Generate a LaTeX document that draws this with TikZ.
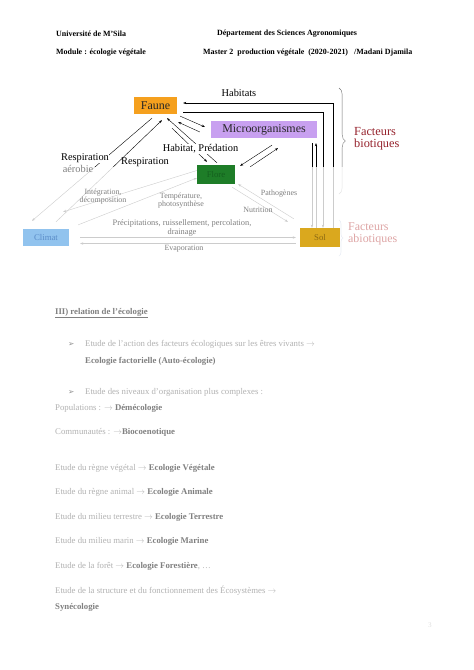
\documentclass[tikz,border=0pt]{standalone}
\usepackage{fontspec}
\setmainfont{Liberation Serif}
\newfontfamily\djv{DejaVu Sans}
\usetikzlibrary{calc,arrows.meta,decorations.pathreplacing}
\pgfdeclarelayer{bg}
\pgfsetlayers{bg,main}
\definecolor{fauneC}{RGB}{245,160,30}
\definecolor{microC}{RGB}{200,160,240}
\definecolor{floreC}{RGB}{30,125,40}
\definecolor{floreT}{RGB}{20,95,30}
\definecolor{climatC}{RGB}{145,195,238}
\definecolor{climatT}{RGB}{90,140,200}
\definecolor{solC}{RGB}{218,168,30}
\definecolor{solT}{RGB}{140,105,20}
\definecolor{bioC}{RGB}{150,35,45}
\definecolor{abioC}{RGB}{222,165,165}
\definecolor{abioB}{RGB}{150,170,210}
\definecolor{lightT}{gray}{0.70}
\definecolor{midT}{gray}{0.50}
\begin{document}
\begin{tikzpicture}[x=1.2553pt,y=-1.2553pt,
  arr/.style={-{Stealth[length=4pt,width=3pt]}, line width=0.5pt},
  box/.style={inner sep=0pt, font=\fontsize{15}{15}\selectfont},
  lab/.style={inner sep=0.5pt, font=\fontsize{13}{13}\selectfont},
  blab/.style={inner sep=0pt, text=midT, align=center, font=\fontsize{10}{10}\selectfont},
  hdr/.style={anchor=west, inner sep=0pt, font=\fontsize{10}{12}\selectfont\bfseries},
  body/.style={anchor=west, inner sep=0pt, text=lightT, font=\fontsize{11}{13}\selectfont},
  bodyb/.style={body, text=midT, font=\fontsize{11}{13}\selectfont\bfseries},
  bul/.style={anchor=west, inner sep=0pt, text=black!45, font=\djv\fontsize{9.5}{9.5}\selectfont},
]
\useasboundingbox (0,0) rectangle (474,670);

% header
\node[hdr] (h1) at (56,34) {Université de M’Sila};
\node[hdr] (h2) at (217,34) {Département des Sciences Agronomiques};
\node[hdr] (h3) at (56,53) {Module : écologie végétale};
\node[hdr] (h4) at (203,53) {Master 2\ \ production végétale\ \ (2020-2021)\ \ \ /Madani Djamila};

% boxes
\node[box, fill=fauneC, text=black!85, minimum width=54pt, minimum height=21.3pt] (faune) at (155.5,105.5) {Faune};
\node[box, fill=microC, text=black!85, minimum width=133pt, minimum height=21.3pt] (micro) at (264,129.5) {Microorganismes};
\node[box, fill=floreC, text=floreT, font=\fontsize{11}{11}\selectfont, minimum width=47.7pt, minimum height=23.9pt] (flore) at (216,174.5) {Flore};
\node[box, fill=climatC, text=climatT, font=\fontsize{11}{11}\selectfont, minimum width=57.7pt, minimum height=21.3pt] (climat) at (46,237.5) {Climat};
\node[box, fill=solC, text=solT, font=\fontsize{11}{11}\selectfont, minimum width=50.2pt, minimum height=23.9pt] (sol) at (320,237.5) {Sol};

% sharp labels
\node[lab] (hab) at (239,93) {Habitats};
\node[lab, fill=white] (hp) at (200.5,149) {Habitat, Prédation};
\node[lab, fill=white] (resp1) at (85,158.5) {Respiration};
\node[lab, text=midT] (aer) at (78,169) {aérobie};
\node[lab] (resp2) at (145,162) {Respiration};
\node[anchor=west, inner sep=0pt, text=bioC, align=left, font=\fontsize{15.5}{15}\selectfont] (bio) at (354,138.5) {Facteurs\\biotiques};
\node[anchor=west, inner sep=0pt, text=abioC, align=left, font=\fontsize{15}{14.5}\selectfont] (abio) at (348,234) {Facteurs\\abiotiques};

% blurred labels
\node[blab] (integ) at (103,196.5) {Intégration,\\décomposition};
\node[blab] (temp) at (181,201) {Température,\\photosynthèse};
\node[blab, font=\fontsize{10.5}{11.3}\selectfont] (precip) at (182,227.5) {Précipitations, ruissellement, percolation,\\drainage};
\node[blab] (evap) at (184,248.5) {Evaporation};
\node[blab] (patho) at (279,194) {Pathogènes};
\node[blab] (nutri) at (258,209.5) {Nutrition};

\begin{pgfonlayer}{bg}
\fill[white] (0,0) rectangle (474,670);
% Habitats
\draw[arr] ($(sol.north)+(13,0)$) |- ($(faune.east)+(6,-2.5)$);
\draw[arr] ($(faune.east)+(6,6.5)$) -| ($(sol.north)+(3,0)$);
% Micro - Sol
\draw[arr] ($(sol.north)+(-4,0)$) -- ($(micro.south)+(52,5)$);
\draw[arr] ($(micro.south)+(48,5)$) -- ($(sol.north)+(-8,0)$);
% Faune - Micro
\draw[arr] ($(faune.south east)+(3,2)$) -- ($(micro.west)+(-6,-2.5)$);
\draw[arr] ($(micro.west)+(-11,2.5)$) -- ($(faune.south east)+(1,8)$);
% Faune - Flore
\draw[arr] ($(flore.north)+(1,-2)$) -- ($(faune.south)+(11.5,4)$);
\draw[arr] ($(faune.south)+(16.5,14)$) -- ($(flore.north)+(-9,-3)$);
% Respiration
\draw[arr] ($(faune.south)+(-3.5,4)$) -- ($(climat.north)+(-14,-8)$);
\draw[arr] ($(climat.north)+(10,-7)$) -- ($(faune.south)+(6.5,6)$);
% Climat - Flore
\draw[arr] ($(flore.west)+(0,-4)$) -- ($(climat.north east)+(-6,-17)$);
\draw[arr] ($(climat.north east)+(9,-4)$) -- ($(flore.west)+(0,3.5)$);
% Precipitations / Evaporation
\draw[arr] ($(climat.east)+(11,0)$) -- ($(sol.west)+(-4,0)$);
\draw[arr] ($(sol.west)+(-4,6)$) -- ($(climat.east)+(11,6)$);
% Flore - Sol
\draw[arr] ($(flore.south east)+(-3,3)$) -- ($(sol.north west)+(-12,-6)$);
\draw[arr] ($(sol.north west)+(-6,-9)$) -- ($(flore.south east)+(3,0)$);
% Micro - Flore
\draw[arr] ($(micro.south)+(8,7)$) -- ($(flore.north east)+(5,1)$);
\draw[arr] ($(flore.north east)+(15,2)$) -- ($(micro.south)+(14,10)$);
% braces
\draw[black!55, line width=0.5pt, decorate, decoration={brace, amplitude=8pt}] (339,88) -- (339,194);
\draw[abioB, line width=0.8pt, decorate, decoration={brace, amplitude=5pt}] (339,220) -- (339,256);
% blur veil over lower part
\fill[white, opacity=0.8] (0,167) rectangle (474,670);
\end{pgfonlayer}

% lower text
\node[bodyb] (title) at (55,313) {\underline{III) relation de l’écologie}};
\node[bul] (b1) at (68,344) {➢};
\node[body] (t1) at (85,344) {Etude de l’action des facteurs écologiques sur les êtres vivants $\rightarrow$};
\node[bodyb] (t1b) at (85,361.5) {Ecologie factorielle (Auto-écologie)};
\node[bul] (b2) at (68,392) {➢};
\node[body] (t2) at (85,392) {Etude des niveaux d’organisation plus complexes :};
\node[body] (t3) at (55,408) {Populations : $\rightarrow$ \textcolor{midT}{\bfseries Démécologie}};
\node[body] (t4) at (55,432.5) {Communautés : $\rightarrow$\textcolor{midT}{\bfseries Biocoenotique}};
\node[body] (t5) at (55,468) {Etude du règne végétal $\rightarrow$ \textcolor{midT}{\bfseries Ecologie Végétale}};
\node[body] (t6) at (55,492.5) {Etude du règne animal $\rightarrow$ \textcolor{midT}{\bfseries Ecologie Animale}};
\node[body] (t7) at (55,517) {Etude du milieu terrestre $\rightarrow$ \textcolor{midT}{\bfseries Ecologie Terrestre}};
\node[body] (t8) at (55,541.5) {Etude du milieu marin $\rightarrow$ \textcolor{midT}{\bfseries Ecologie Marine}};
\node[body] (t9) at (55,566) {Etude de la forêt $\rightarrow$ \textcolor{midT}{\bfseries Ecologie Forestière}, …};
\node[body] (t10) at (55,590.5) {Etude de la structure et du fonctionnement des Écosystèmes $\rightarrow$};
\node[bodyb] (t10b) at (55,607) {Synécologie};
\node[text=black!12, inner sep=0pt, font=\fontsize{9}{9}\selectfont] (pg) at (430,625) {3};
\end{tikzpicture}
\end{document}
